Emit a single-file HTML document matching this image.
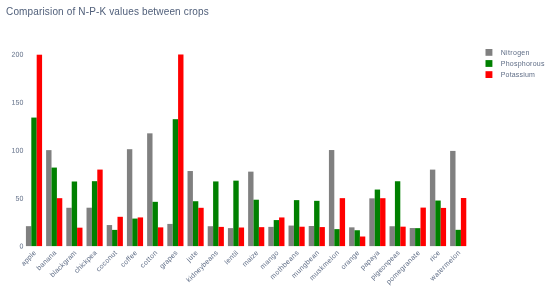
<!DOCTYPE html>
<html><head><meta charset="utf-8"><title>Comparision of N-P-K values between crops</title>
<style>html,body{margin:0;padding:0;background:#fff;}svg{display:block;}text{font-family:"Liberation Sans",sans-serif;}text:not([fill]){fill:#5f6d86;}</style></head>
<body>
<svg width="550" height="292" viewBox="0 0 550 292">
<rect width="550" height="292" fill="#ffffff"/>
<text id="title" fill="#4f5e79" transform="translate(6.0,14.5) rotate(0.02)" font-size="10" textLength="202.80">Comparision of N-P-K values between crops</text>
<text class="yt" transform="translate(23.3,248.60) rotate(0.03)" font-size="7.03" text-anchor="end">0</text>
<text class="yt" transform="translate(23.3,200.65) rotate(0.03)" font-size="7.03" text-anchor="end">50</text>
<text class="yt" transform="translate(23.3,152.70) rotate(0.03)" font-size="7.03" text-anchor="end">100</text>
<text class="yt" transform="translate(23.3,104.75) rotate(0.03)" font-size="7.03" text-anchor="end">150</text>
<text class="yt" transform="translate(23.3,56.80) rotate(0.03)" font-size="7.03" text-anchor="end">200</text>
<rect x="25.92" y="226.18" width="5.39" height="19.92" fill="#808080"/>
<rect x="31.31" y="117.58" width="5.39" height="128.52" fill="#008000"/>
<rect x="36.69" y="54.71" width="5.39" height="191.39" fill="#ff0000"/>
<text class="xt" transform="translate(36.60,253.30) rotate(-45)" font-size="7.03" textLength="18.25" text-anchor="end">apple</text>
<rect x="46.12" y="150.13" width="5.39" height="95.97" fill="#808080"/>
<rect x="51.51" y="167.58" width="5.39" height="78.52" fill="#008000"/>
<rect x="56.89" y="198.18" width="5.39" height="47.92" fill="#ff0000"/>
<text class="xt" transform="translate(56.80,253.30) rotate(-45)" font-size="7.03" textLength="24.67" text-anchor="end">banana</text>
<rect x="66.32" y="207.78" width="5.39" height="38.32" fill="#808080"/>
<rect x="71.71" y="181.50" width="5.39" height="64.60" fill="#008000"/>
<rect x="77.09" y="227.68" width="5.39" height="18.42" fill="#ff0000"/>
<text class="xt" transform="translate(77.00,253.30) rotate(-45)" font-size="7.03" textLength="34.20" text-anchor="end">blackgram</text>
<rect x="86.52" y="207.71" width="5.39" height="38.39" fill="#808080"/>
<rect x="91.91" y="181.19" width="5.39" height="64.91" fill="#008000"/>
<rect x="97.29" y="169.58" width="5.39" height="76.52" fill="#ff0000"/>
<text class="xt" transform="translate(97.20,253.30) rotate(-45)" font-size="7.03" textLength="28.64" text-anchor="end">chickpea</text>
<rect x="106.72" y="225.05" width="5.39" height="21.05" fill="#808080"/>
<rect x="112.11" y="229.89" width="5.39" height="16.21" fill="#008000"/>
<rect x="117.49" y="216.81" width="5.39" height="29.29" fill="#ff0000"/>
<text class="xt" transform="translate(117.40,253.30) rotate(-45)" font-size="7.03" textLength="26.30" text-anchor="end">coconut</text>
<rect x="126.92" y="149.20" width="5.39" height="96.90" fill="#808080"/>
<rect x="132.31" y="218.58" width="5.39" height="27.52" fill="#008000"/>
<rect x="137.69" y="217.43" width="5.39" height="28.67" fill="#ff0000"/>
<text class="xt" transform="translate(137.60,253.30) rotate(-45)" font-size="7.03" textLength="20.25" text-anchor="end">coffee</text>
<rect x="147.12" y="133.34" width="5.39" height="112.76" fill="#808080"/>
<rect x="152.51" y="201.83" width="5.39" height="44.27" fill="#008000"/>
<rect x="157.89" y="227.37" width="5.39" height="18.73" fill="#ff0000"/>
<text class="xt" transform="translate(157.80,253.30) rotate(-45)" font-size="7.03" textLength="21.12" text-anchor="end">cotton</text>
<rect x="167.32" y="223.91" width="5.39" height="22.19" fill="#808080"/>
<rect x="172.71" y="119.20" width="5.39" height="126.90" fill="#008000"/>
<rect x="178.09" y="54.49" width="5.39" height="191.61" fill="#ff0000"/>
<text class="xt" transform="translate(178.00,253.30) rotate(-45)" font-size="7.03" textLength="22.24" text-anchor="end">grapes</text>
<rect x="187.52" y="171.03" width="5.39" height="75.07" fill="#808080"/>
<rect x="192.91" y="201.23" width="5.39" height="44.87" fill="#008000"/>
<rect x="198.29" y="207.81" width="5.39" height="38.29" fill="#ff0000"/>
<text class="xt" transform="translate(198.20,253.30) rotate(-45)" font-size="7.03" textLength="12.52" text-anchor="end">jute</text>
<rect x="207.72" y="226.23" width="5.39" height="19.87" fill="#808080"/>
<rect x="213.11" y="181.43" width="5.39" height="64.67" fill="#008000"/>
<rect x="218.49" y="226.90" width="5.39" height="19.20" fill="#ff0000"/>
<text class="xt" transform="translate(218.40,253.30) rotate(-45)" font-size="7.03" textLength="41.41" text-anchor="end">kidneybeans</text>
<rect x="227.92" y="228.13" width="5.39" height="17.97" fill="#808080"/>
<rect x="233.31" y="180.65" width="5.39" height="65.45" fill="#008000"/>
<rect x="238.69" y="227.51" width="5.39" height="18.59" fill="#ff0000"/>
<text class="xt" transform="translate(238.60,253.30) rotate(-45)" font-size="7.03" textLength="16.07" text-anchor="end">lentil</text>
<rect x="248.12" y="171.64" width="5.39" height="74.46" fill="#808080"/>
<rect x="253.51" y="199.72" width="5.39" height="46.38" fill="#008000"/>
<rect x="258.89" y="227.15" width="5.39" height="18.95" fill="#ff0000"/>
<text class="xt" transform="translate(258.80,253.30) rotate(-45)" font-size="7.03" textLength="19.45" text-anchor="end">maize</text>
<rect x="268.32" y="226.88" width="5.39" height="19.22" fill="#808080"/>
<rect x="273.71" y="220.08" width="5.39" height="26.02" fill="#008000"/>
<rect x="279.09" y="217.45" width="5.39" height="28.65" fill="#ff0000"/>
<text class="xt" transform="translate(279.00,253.30) rotate(-45)" font-size="7.03" textLength="22.86" text-anchor="end">mango</text>
<rect x="288.52" y="225.57" width="5.39" height="20.53" fill="#808080"/>
<rect x="293.91" y="200.13" width="5.39" height="45.97" fill="#008000"/>
<rect x="299.29" y="226.73" width="5.39" height="19.37" fill="#ff0000"/>
<text class="xt" transform="translate(299.20,253.30) rotate(-45)" font-size="7.03" textLength="37.41" text-anchor="end">mothbeans</text>
<rect x="308.72" y="226.00" width="5.39" height="20.10" fill="#808080"/>
<rect x="314.11" y="200.83" width="5.39" height="45.27" fill="#008000"/>
<rect x="319.49" y="227.07" width="5.39" height="19.03" fill="#ff0000"/>
<text class="xt" transform="translate(319.40,253.30) rotate(-45)" font-size="7.03" textLength="35.50" text-anchor="end">mungbean</text>
<rect x="328.92" y="150.04" width="5.39" height="96.06" fill="#808080"/>
<rect x="334.31" y="229.13" width="5.39" height="16.97" fill="#008000"/>
<rect x="339.69" y="198.15" width="5.39" height="47.95" fill="#ff0000"/>
<text class="xt" transform="translate(339.60,253.30) rotate(-45)" font-size="7.03" textLength="38.72" text-anchor="end">muskmelon</text>
<rect x="349.12" y="227.35" width="5.39" height="18.75" fill="#808080"/>
<rect x="354.51" y="230.25" width="5.39" height="15.85" fill="#008000"/>
<rect x="359.89" y="236.52" width="5.39" height="9.58" fill="#ff0000"/>
<text class="xt" transform="translate(359.80,253.30) rotate(-45)" font-size="7.03" textLength="23.14" text-anchor="end">orange</text>
<rect x="369.32" y="198.34" width="5.39" height="47.76" fill="#808080"/>
<rect x="374.71" y="189.56" width="5.39" height="56.54" fill="#008000"/>
<rect x="380.09" y="198.19" width="5.39" height="47.91" fill="#ff0000"/>
<text class="xt" transform="translate(380.00,253.30) rotate(-45)" font-size="7.03" textLength="23.89" text-anchor="end">papaya</text>
<rect x="389.52" y="226.25" width="5.39" height="19.85" fill="#808080"/>
<rect x="394.91" y="181.25" width="5.39" height="64.85" fill="#008000"/>
<rect x="400.29" y="226.67" width="5.39" height="19.43" fill="#ff0000"/>
<text class="xt" transform="translate(400.20,253.30) rotate(-45)" font-size="7.03" textLength="37.96" text-anchor="end">pigeonpeas</text>
<rect x="409.72" y="228.03" width="5.39" height="18.07" fill="#808080"/>
<rect x="415.11" y="228.15" width="5.39" height="17.95" fill="#008000"/>
<rect x="420.49" y="207.60" width="5.39" height="38.50" fill="#ff0000"/>
<text class="xt" transform="translate(420.40,253.30) rotate(-45)" font-size="7.03" textLength="44.32" text-anchor="end">pomegranate</text>
<rect x="429.92" y="169.61" width="5.39" height="76.49" fill="#808080"/>
<rect x="435.31" y="200.54" width="5.39" height="45.56" fill="#008000"/>
<rect x="440.69" y="207.92" width="5.39" height="38.18" fill="#ff0000"/>
<text class="xt" transform="translate(440.60,253.30) rotate(-45)" font-size="7.03" textLength="11.94" text-anchor="end">rice</text>
<rect x="450.12" y="150.91" width="5.39" height="95.19" fill="#808080"/>
<rect x="455.51" y="229.82" width="5.39" height="16.28" fill="#008000"/>
<rect x="460.89" y="198.01" width="5.39" height="48.09" fill="#ff0000"/>
<text class="xt" transform="translate(460.80,253.30) rotate(-45)" font-size="7.03" textLength="39.50" text-anchor="end">watermelon</text>
<rect x="485.5" y="49.00" width="6.9" height="6.8" fill="#808080"/>
<text class="lg" x="500.7" y="55.00" font-size="7.03" textLength="28.79">Nitrogen</text>
<rect x="485.5" y="60.10" width="6.9" height="6.8" fill="#008000"/>
<text class="lg" x="500.7" y="66.10" font-size="7.03" textLength="43.80">Phosphorous</text>
<rect x="485.5" y="71.20" width="6.9" height="6.8" fill="#ff0000"/>
<text class="lg" x="500.7" y="77.20" font-size="7.03" textLength="34.21">Potassium</text>
</svg>
</body></html>
